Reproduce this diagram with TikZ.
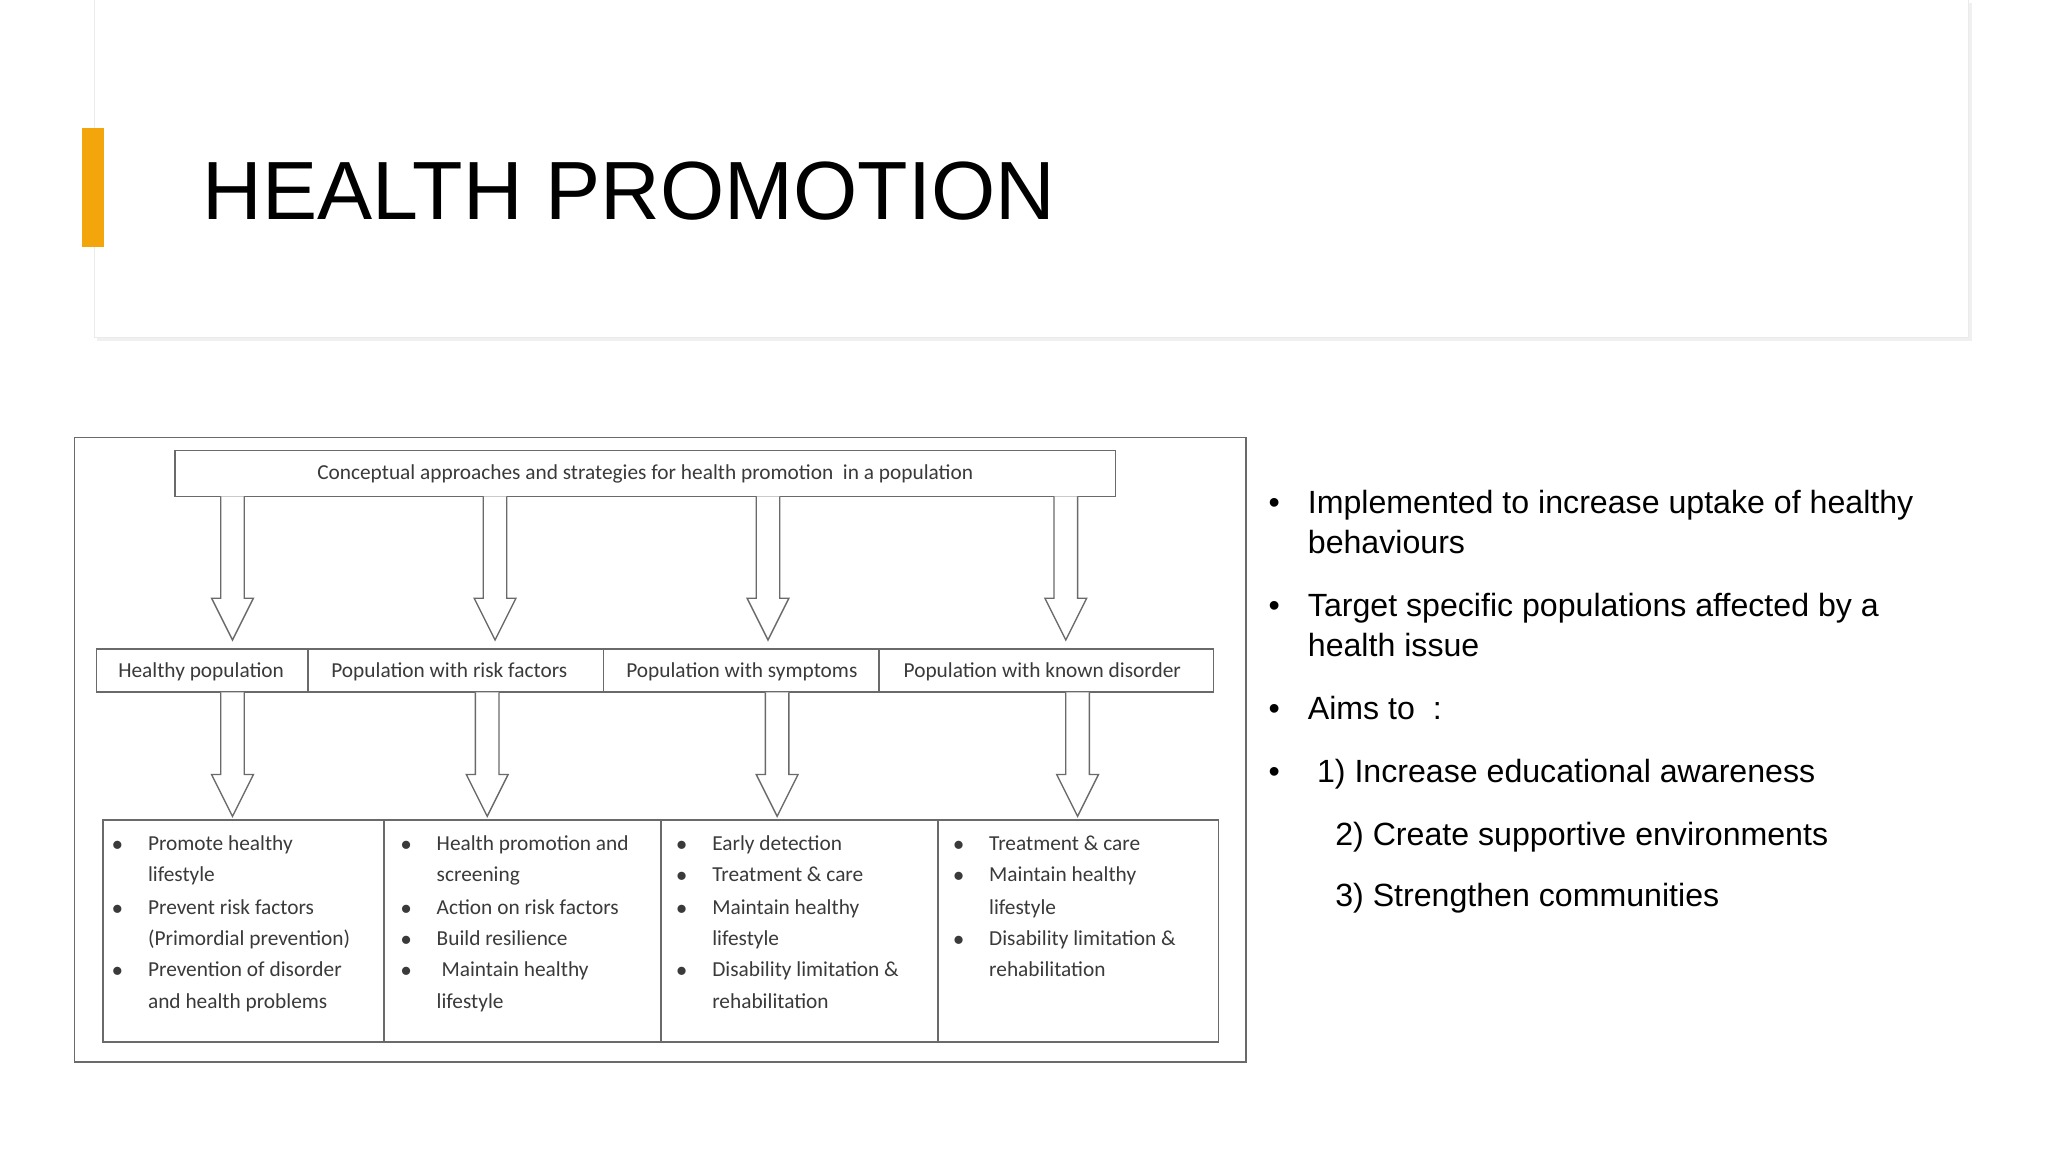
\documentclass[tikz,border=0pt]{standalone}
\usepackage{fontspec}
\setmainfont{Liberation Sans}
\newfontfamily\dfont{Carlito}
\definecolor{orng}{HTML}{F2A60C}
\definecolor{dtext}{HTML}{3A3A3A}
\definecolor{dline}{HTML}{6A6A6A}
\newcommand\hollowarrow[3]{% x, ytop, ybottom
  \draw[dline,line width=0.6pt,fill=white] (#1-9,#2) -- (#1-9,#3-32) -- (#1-16,#3-32) -- (#1,#3) -- (#1+16,#3-32) -- (#1+9,#3-32) -- (#1+9,#2);}
\newcommand\myBulItem[3]{\node[dtxt,anchor=base] at (#1,#2+5) {$\bullet$};\node[bl] at (#1+23,#2+5) {#3};}
\newcommand\myContLine[3]{\node[bl] at (#1+23,#2+5) {#3};}
\begin{document}
\begin{tikzpicture}[x=0.02cm,y=-0.02cm,
  box/.style={draw=dline,line width=0.7pt},
  dtxt/.style={font=\dfont\fontsize{9.3}{13.8}\selectfont,text=dtext,inner sep=0},
  bl/.style={dtxt,anchor=base west},
  btxt/.style={font=\fontsize{14}{17.6}\selectfont,anchor=base west,inner sep=0}]
\useasboundingbox[fill=white] (0,0) rectangle (1568,882);
% header
\fill[black!6] (74,2) rectangle (1510,261);
\fill[white,draw=black!8] (72,-2) rectangle (1507,258);
\fill[orng] (63,98) rectangle (80,189);
\node[anchor=base west,inner sep=0,font=\fontsize{36}{40}\selectfont] (title) at (155,168) {HEALTH PROMOTION};
% diagram
\draw[box] (57,335) rectangle (954,813);
\draw[box] (134,345) rectangle (854,380);
\node[dtxt] (top) at (494,363) {Conceptual approaches and strategies for health promotion\ \ in a population};
\foreach \x in {178,379,588,816} {\hollowarrow{\x}{380}{490}}
\draw[box] (74,497) rectangle (929,530);
\foreach \x in {236,462,673} \draw[box] (\x,497) -- (\x,530);
\node[dtxt] (p1) at (154,514) {Healthy population};
\node[dtxt] (p2) at (344,514) {Population with risk factors};
\node[dtxt] (p3) at (568,514) {Population with symptoms};
\node[dtxt] (p4) at (798,514) {Population with known disorder};
\foreach \x in {178,373,595,825} {\hollowarrow{\x}{530}{625}}
\draw[box] (79,628) rectangle (933,798);
\foreach \x in {294,506,718} \draw[box] (\x,628) -- (\x,798);
% col1
\myBulItem{90}{646}{Promote healthy}
\myContLine{90}{670}{lifestyle}
\myBulItem{90}{695}{Prevent risk factors}
\myContLine{90}{719}{(Primordial prevention)}
\myBulItem{90}{743}{Prevention of disorder}
\myContLine{90}{767}{and health problems}
% col2
\myBulItem{311}{646}{Health promotion and}
\myContLine{311}{670}{screening}
\myBulItem{311}{695}{Action on risk factors}
\myBulItem{311}{719}{Build resilience}
\myBulItem{311}{743}{\ Maintain healthy}
\myContLine{311}{767}{lifestyle}
% col3
\myBulItem{522}{646}{Early detection}
\myBulItem{522}{670}{Treatment \& care}
\myBulItem{522}{695}{Maintain healthy}
\myContLine{522}{719}{lifestyle}
\myBulItem{522}{743}{Disability limitation \&}
\myContLine{522}{767}{rehabilitation}
% col4
\myBulItem{734}{646}{Treatment \& care}
\myBulItem{734}{670}{Maintain healthy}
\myContLine{734}{695}{lifestyle}
\myBulItem{734}{719}{Disability limitation \&}
\myContLine{734}{743}{rehabilitation}
% right text
\foreach \y in {393,472,551,599} \node[btxt] at (971,\y) {•};
\node[btxt] (r1) at (1001,393) {Implemented to increase uptake of healthy};
\node[btxt] (r2) at (1001,424) {behaviours};
\node[btxt] (r3) at (1001,472) {Target specific populations affected by a};
\node[btxt] (r4) at (1001,503) {health issue};
\node[btxt] (r5) at (1001,551) {Aims to\ \ :};
\node[btxt] (r6) at (1008,599) {1) Increase educational awareness};
\node[btxt] (r7) at (1022,647) {2) Create supportive environments};
\node[btxt] (r8) at (1022,694) {3) Strengthen communities};
\end{tikzpicture}
\end{document}
